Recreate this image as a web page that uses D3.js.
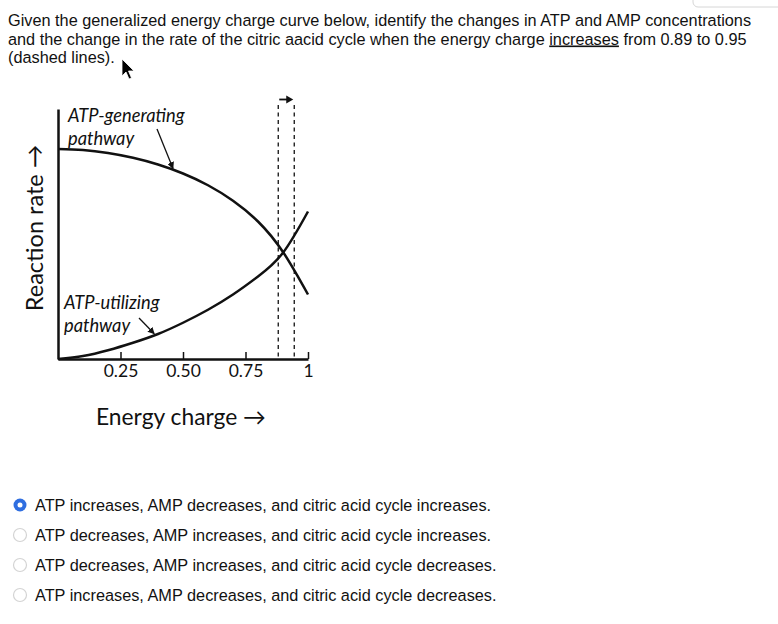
<!DOCTYPE html>
<html>
<head>
<meta charset="utf-8">
<script src="https://cdn.jsdelivr.net/npm/d3@7"></script>
<style>
  body { margin: 0; background: #fff; }
  .q { font-family: "Liberation Sans", Arial, sans-serif; font-size: 16.3px; fill: #111; }
  .chart text { font-family: Lato, "Open Sans", sans-serif; fill: #111; }
</style>
</head>
<body>
<div id="chart"></div>
<script>
// question + answers
const questionLines = [
  ["Given the generalized energy charge curve below, identify the changes in ATP and AMP concentrations"],
  ["and the change in the rate of the citric aacid cycle when the energy charge ", "increases", " from 0.89 to 0.95"],
  ["(dashed lines)."]
];
const answers = [
  "ATP increases, AMP decreases, and citric acid cycle increases.",
  "ATP decreases, AMP increases, and citric acid cycle increases.",
  "ATP decreases, AMP increases, and citric acid cycle decreases.",
  "ATP increases, AMP decreases, and citric acid cycle decreases."
];
const selected = 0;

// curve data
const energy = [0, 0.1, 0.2, 0.3, 0.4, 0.5, 0.6, 0.7, 0.8, 0.9, 1.0];
const generating = [0.84, 0.836, 0.824, 0.805, 0.778, 0.742, 0.695, 0.633, 0.55, 0.428, 0.258];
const utilizing = [0, 0.012, 0.035, 0.065, 0.10, 0.145, 0.197, 0.258, 0.33, 0.425, 0.59];
const xTicks = [0.25, 0.5, 0.75, 1];
const xTickLabels = ["0.25", "0.50", "0.75", "1"];
const dashed = [0.881, 0.945];

const W = 778, H = 624;
const svg = d3.select("#chart").append("svg")
  .attr("width", W).attr("height", H);

// top right button edge
svg.append("rect")
  .attr("x", 693).attr("y", -20).attr("width", 110).attr("height", 27)
  .attr("rx", 5).attr("fill", "none").attr("stroke", "#d6d6d6");

// question text
const q = svg.append("g").attr("class", "q");
questionLines.forEach((parts, i) => {
  const t = q.append("text").attr("x", 8).attr("y", 26 + i * 18.5);
  parts.forEach((p, j) => {
    const ts = t.append("tspan").text(p);
    if (j === 1) ts.style("text-decoration", "underline");
  });
});

// mouse cursor
svg.append("path")
  .attr("d", "M122,59 L122,76 L126,72 L129,79 L131.5,78 L128.5,71 L134,71 Z")
  .attr("fill", "#000").attr("stroke", "#fff").attr("stroke-width", 0.8);

// chart
const g = svg.append("g").attr("class", "chart");
const x = d3.scaleLinear().domain([0, 1]).range([58, 308]);
const y = d3.scaleLinear().domain([0, 1]).range([359, 109]);

const xAxis = d3.axisBottom(x)
  .tickValues(xTicks)
  .tickFormat((d, i) => xTickLabels[i])
  .tickSize(-7)
  .tickSizeOuter(0)
  .tickPadding(6);

const xg = g.append("g").attr("transform", `translate(0,${y(0)})`).call(xAxis);
xg.select(".domain").attr("stroke", "#111").attr("stroke-width", 2.5);
xg.selectAll(".tick line").attr("stroke", "#111").attr("stroke-width", 1.5);
xg.selectAll(".tick text").attr("font-size", 17.5).attr("font-family", "Lato, sans-serif");

const yAxis = d3.axisLeft(y).tickValues([]).tickSizeOuter(0);
const yg = g.append("g").attr("transform", `translate(${x(0)},0)`).call(yAxis);
yg.select(".domain").attr("stroke", "#111").attr("stroke-width", 2.5);

const line = d3.line()
  .x((d, i) => x(energy[i]))
  .y(d => y(d))
  .curve(d3.curveNatural);

g.append("path").datum(generating).attr("d", line)
  .attr("fill", "none").attr("stroke", "#111").attr("stroke-width", 2.5);
g.append("path").datum(utilizing).attr("d", line)
  .attr("fill", "none").attr("stroke", "#111").attr("stroke-width", 2.5);

// dashed lines
g.selectAll(".dash").data(dashed).join("line")
  .attr("class", "dash")
  .attr("x1", d => x(d)).attr("x2", d => x(d))
  .attr("y1", 105).attr("y2", y(0))
  .attr("stroke", "#111").attr("stroke-width", 1.3)
  .attr("stroke-dasharray", "4,3.5");

// arrow marker
const defs = svg.append("defs");
defs.append("marker")
  .attr("id", "ah").attr("viewBox", "0 0 10 10")
  .attr("refX", 9).attr("refY", 5)
  .attr("markerWidth", 7).attr("markerHeight", 7)
  .attr("markerUnits", "userSpaceOnUse")
  .attr("orient", "auto")
  .append("path").attr("d", "M0,0 L10,5 L0,10 Z").attr("fill", "#111");

// shift arrow above the dashed lines
const ax0 = x(dashed[0]) + 1, ax1 = x(dashed[1]) - 1;
g.append("line")
  .attr("x1", ax0).attr("x2", ax1 - 6)
  .attr("y1", 99.5).attr("y2", 99.5)
  .attr("stroke", "#111").attr("stroke-width", 1.8);
g.append("path")
  .attr("d", `M${ax1 - 7},95.5 L${ax1},99.5 L${ax1 - 7},103.5 Z`)
  .attr("fill", "#111");

// pathway labels
const lab = g.append("g").attr("font-style", "italic").attr("font-size", 18.3);
lab.append("text").attr("x", 68).attr("y", 122).text("ATP-generating");
lab.append("text").attr("x", 68).attr("y", 145).text("pathway");
lab.append("text").attr("x", 64).attr("y", 309).text("ATP-utilizing");
lab.append("text").attr("x", 64).attr("y", 332).text("pathway");

g.append("line").attr("x1", 157).attr("y1", 129).attr("x2", x(0.46)).attr("y2", y(0.762))
  .attr("stroke", "#111").attr("stroke-width", 1.3).attr("marker-end", "url(#ah)");
g.append("line").attr("x1", 139).attr("y1", 318).attr("x2", x(0.385)).attr("y2", y(0.101))
  .attr("stroke", "#111").attr("stroke-width", 1.3).attr("marker-end", "url(#ah)");

// axis titles
g.append("text")
  .attr("transform", "translate(43,228) rotate(-90)")
  .attr("text-anchor", "middle").attr("font-size", 23.5)
  .text("Reaction rate \u2192");
g.append("text")
  .attr("x", 96).attr("y", 425).attr("font-size", 22.8)
  .text("Energy charge \u2192");

// answer options
const opts = svg.append("g").attr("class", "q");
answers.forEach((a, i) => {
  const cy = 505 + i * 30;
  if (i === selected) {
    opts.append("circle").attr("cx", 20).attr("cy", cy).attr("r", 6.5).attr("fill", "#2f6ee0");
    opts.append("circle").attr("cx", 20).attr("cy", cy).attr("r", 2.5).attr("fill", "#fff");
  } else {
    opts.append("circle").attr("cx", 20).attr("cy", cy).attr("r", 6.5)
      .attr("fill", "#fff").attr("stroke", "#d4d4d4").attr("stroke-width", 1.2);
  }
  opts.append("text").attr("x", 35).attr("y", cy + 6).text(a);
});
</script>
</body>
</html>
